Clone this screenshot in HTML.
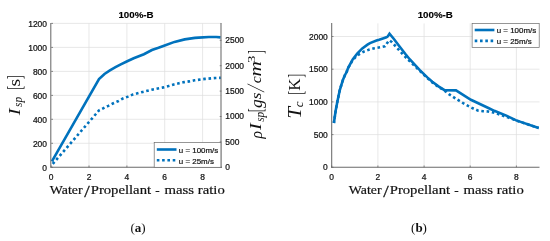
<!DOCTYPE html>
<html><head><meta charset="utf-8"><title>Figure</title>
<style>html,body{margin:0;padding:0;background:#fff}svg{display:block}.t{font-family:"Liberation Sans",sans-serif;font-size:8.45px;fill:#111;stroke:#111;stroke-width:0.22px}.tt{font-family:"Liberation Sans",sans-serif;font-size:9.75px;font-weight:bold;fill:#000;stroke:#000;stroke-width:0.15px}.lg{font-family:"Liberation Sans",sans-serif;font-size:7.95px;fill:#111;stroke:#111;stroke-width:0.2px}.s{font-family:"Liberation Serif",serif;font-size:13.2px;fill:#111;stroke:#111;stroke-width:0.2px}.y{font-family:"Liberation Serif",serif;font-size:16.8px;fill:#111;stroke:#111;stroke-width:0.15px}.i{font-style:italic}.c{font-family:"Liberation Serif",serif;font-size:13px;fill:#111}</style></head><body>
<svg width="550" height="241" viewBox="0 0 550 241">
<rect width="550" height="241" fill="#fff"/>
<g stroke="#dedede" stroke-width="0.7" fill="none">
<line x1="89.0" y1="23.4" x2="89.0" y2="167.3"/>
<line x1="126.9" y1="23.4" x2="126.9" y2="167.3"/>
<line x1="164.7" y1="23.4" x2="164.7" y2="167.3"/>
<line x1="202.6" y1="23.4" x2="202.6" y2="167.3"/>
<line x1="51.2" y1="143.3" x2="221.5" y2="143.3"/>
<line x1="51.2" y1="119.3" x2="221.5" y2="119.3"/>
<line x1="51.2" y1="95.4" x2="221.5" y2="95.4"/>
<line x1="51.2" y1="71.4" x2="221.5" y2="71.4"/>
<line x1="51.2" y1="47.4" x2="221.5" y2="47.4"/>
<line x1="51.2" y1="23.4" x2="221.5" y2="23.4"/>
</g>
<polyline points="51.9,161.4 99.0,79.0 104.5,74.0 109.9,70.4 115.5,67.2 120.8,64.4 126.7,61.5 133.7,58.3 143.9,54.2 151.9,50.0 158.5,47.8 164.7,45.5 174.5,41.9 184.7,39.4 194.9,37.9 198.7,37.6 208.9,37.0 216.2,37.0 220.6,37.4" fill="none" stroke="#0072BD" stroke-width="2.6" stroke-linejoin="miter"/>
<polyline points="52.6,164.0 99.0,110.4 103.1,108.3 108.3,105.8 112.8,103.5 117.9,101.3 122.3,98.8 128.0,96.6 132.6,94.6 142.8,91.9 153.1,89.4 163.4,87.4 168.6,86.1 173.9,84.5 178.9,83.3 184.2,82.1 189.2,81.4 194.5,80.3 205.0,78.9 215.6,78.0 220.9,77.8" fill="none" stroke="#0072BD" stroke-width="2.6" stroke-dasharray="2.6 2.7" stroke-dashoffset="5.06" stroke-linejoin="round"/>
<g stroke="#6a6a6a" stroke-width="1.05" fill="none">
<line x1="50.800000000000004" y1="23.099999999999998" x2="50.800000000000004" y2="167.8"/>
<line x1="221.0" y1="23.099999999999998" x2="221.0" y2="167.8"/>
<line x1="50.7" y1="167.3" x2="222.0" y2="167.3"/>
</g>
<g stroke="#6a6a6a" stroke-width="0.8">
<line x1="51.2" y1="167.3" x2="51.2" y2="165.5"/>
<line x1="89.0" y1="167.3" x2="89.0" y2="165.5"/>
<line x1="126.9" y1="167.3" x2="126.9" y2="165.5"/>
<line x1="164.7" y1="167.3" x2="164.7" y2="165.5"/>
<line x1="202.6" y1="167.3" x2="202.6" y2="165.5"/>
<line x1="51.2" y1="167.3" x2="53.0" y2="167.3"/>
<line x1="51.2" y1="143.3" x2="53.0" y2="143.3"/>
<line x1="51.2" y1="119.3" x2="53.0" y2="119.3"/>
<line x1="51.2" y1="95.4" x2="53.0" y2="95.4"/>
<line x1="51.2" y1="71.4" x2="53.0" y2="71.4"/>
<line x1="51.2" y1="47.4" x2="53.0" y2="47.4"/>
<line x1="51.2" y1="23.4" x2="53.0" y2="23.4"/>
<line x1="221.5" y1="167.3" x2="219.7" y2="167.3"/>
<line x1="221.5" y1="141.9" x2="219.7" y2="141.9"/>
<line x1="221.5" y1="116.5" x2="219.7" y2="116.5"/>
<line x1="221.5" y1="91.1" x2="219.7" y2="91.1"/>
<line x1="221.5" y1="65.7" x2="219.7" y2="65.7"/>
<line x1="221.5" y1="40.3" x2="219.7" y2="40.3"/>
</g>
<text class="t" x="51.2" y="180.4" text-anchor="middle">0</text>
<text class="t" x="89.0" y="180.4" text-anchor="middle">2</text>
<text class="t" x="126.9" y="180.4" text-anchor="middle">4</text>
<text class="t" x="164.7" y="180.4" text-anchor="middle">6</text>
<text class="t" x="202.6" y="180.4" text-anchor="middle">8</text>
<text class="t" x="47.0" y="170.6" text-anchor="end">0</text>
<text class="t" x="47.0" y="146.6" text-anchor="end">200</text>
<text class="t" x="47.0" y="122.6" text-anchor="end">400</text>
<text class="t" x="47.0" y="98.7" text-anchor="end">600</text>
<text class="t" x="47.0" y="74.7" text-anchor="end">800</text>
<text class="t" x="47.0" y="50.7" text-anchor="end">1000</text>
<text class="t" x="47.0" y="26.7" text-anchor="end">1200</text>
<text class="t" x="225.3" y="170.2">0</text>
<text class="t" x="225.3" y="144.8">500</text>
<text class="t" x="225.3" y="119.4">1000</text>
<text class="t" x="225.3" y="94.0">1500</text>
<text class="t" x="225.3" y="68.6">2000</text>
<text class="t" x="225.3" y="43.2">2500</text>
<text class="tt" x="136" y="18.3" text-anchor="middle">100%-B</text>
<text style='font:13.4px "Liberation Serif",serif;fill:#111;stroke:#111;stroke-width:0.2px' transform="translate(49.83,194.40) scale(1.033,1)">Water</text>
<text style='font:13.4px "Liberation Serif",serif;fill:#111;stroke:#111;stroke-width:0.2px' transform="translate(84.28,197.00) scale(1.475,1.26)">/</text>
<text style='font:13.4px "Liberation Serif",serif;fill:#111;stroke:#111;stroke-width:0.2px' transform="translate(90.73,194.40) scale(1.096,1)">Propellant</text>
<text style='font:13.4px "Liberation Serif",serif;fill:#111;stroke:#111;stroke-width:0.2px' transform="translate(155.13,194.40) scale(0.987,1)">-</text>
<text style='font:13.4px "Liberation Serif",serif;fill:#111;stroke:#111;stroke-width:0.2px' transform="translate(164.46,194.40) scale(1.105,1)">mass</text>
<text style='font:13.4px "Liberation Serif",serif;fill:#111;stroke:#111;stroke-width:0.2px' transform="translate(197.86,194.40) scale(1.096,1)">ratio</text>
<text style='font:italic 17px "Liberation Serif",serif;fill:#111' transform="translate(19.80,115.35) rotate(-90) scale(1.184,1.043) ">I</text>
<text style='font:italic 11.6px "Liberation Serif",serif;fill:#111' transform="translate(22.04,106.92) rotate(-90) scale(0.985,1.025) ">sp</text>
<text style='font:17px "Liberation Serif",serif;fill:#111' transform="translate(21.20,89.67) rotate(-90) scale(0.693,1.200) ">[</text>
<text style='font:17px "Liberation Serif",serif;fill:#111' transform="translate(19.68,86.47) rotate(-90) scale(1.162,0.935) ">s</text>
<text style='font:17px "Liberation Serif",serif;fill:#111' transform="translate(21.20,79.23) rotate(-90) scale(0.693,1.200) ">]</text>
<text style='font:italic 17px "Liberation Serif",serif;fill:#111' transform="translate(261.63,138.45) rotate(-90) scale(0.925,1.041) ">ρ</text>
<text style='font:italic 17px "Liberation Serif",serif;fill:#111' transform="translate(260.60,130.05) rotate(-90) scale(1.184,1.025) ">I</text>
<text style='font:italic 11.6px "Liberation Serif",serif;fill:#111' transform="translate(263.65,121.82) rotate(-90) scale(0.974,1.100) ">sp</text>
<text style='font:17px "Liberation Serif",serif;fill:#111' transform="translate(261.90,112.37) rotate(-90) scale(0.693,1.200) ">[</text>
<text style='font:italic 17px "Liberation Serif",serif;fill:#111' transform="translate(261.63,107.90) rotate(-90) scale(1.038,1.041) ">g</text>
<text style='font:italic 17px "Liberation Serif",serif;fill:#111' transform="translate(260.59,99.26) rotate(-90) scale(1.021,0.911) ">s</text>
<text style='font:17px "Liberation Serif",serif;fill:#111' transform="translate(264.35,92.60) rotate(-90) scale(0.935,1.018) skewX(-17) scale(1,1.45)">/</text>
<text style='font:italic 17px "Liberation Serif",serif;fill:#111' transform="translate(260.59,83.27) rotate(-90) scale(0.931,0.911) ">c</text>
<text style='font:italic 17px "Liberation Serif",serif;fill:#111' transform="translate(260.70,76.58) rotate(-90) scale(1.251,0.925) ">m</text>
<text style='font:11.6px "Liberation Serif",serif;fill:#111' transform="translate(255.48,63.00) rotate(-90) scale(1.284,0.942) ">3</text>
<text style='font:17px "Liberation Serif",serif;fill:#111' transform="translate(261.90,54.03) rotate(-90) scale(0.693,1.200) ">]</text>
<text style='font:italic 17px "Liberation Serif",serif;fill:#111' transform="translate(300.60,118.80) rotate(-90) scale(1.248,1.061) ">T</text>
<text style='font:italic 11.6px "Liberation Serif",serif;fill:#111' transform="translate(303.08,107.22) rotate(-90) scale(1.124,0.996) ">c</text>
<text style='font:17px "Liberation Serif",serif;fill:#111' transform="translate(301.50,94.77) rotate(-90) scale(0.693,1.200) ">[</text>
<text style='font:17px "Liberation Serif",serif;fill:#111' transform="translate(300.40,90.80) rotate(-90) scale(0.998,0.989) ">K</text>
<text style='font:17px "Liberation Serif",serif;fill:#111' transform="translate(301.50,77.83) rotate(-90) scale(0.693,1.200) ">]</text>
<rect x="154.2" y="142.5" width="66.7" height="24.8" fill="#fff" stroke="#6a6a6a" stroke-width="0.7"/>
<line x1="156.8" y1="149.5" x2="176.5" y2="149.5" stroke="#0072BD" stroke-width="2.6"/>
<line x1="156.8" y1="160.3" x2="176.5" y2="160.3" stroke="#0072BD" stroke-width="2.6" stroke-dasharray="2.6 2.7"/>
<text class="lg" x="178.8" y="152.6">u = 100m/s</text>
<text class="lg" x="178.8" y="163.6">u = 25m/s</text>
<g stroke="#dedede" stroke-width="0.7" fill="none">
<line x1="377.9" y1="23.4" x2="377.9" y2="167.3"/>
<line x1="424.1" y1="23.4" x2="424.1" y2="167.3"/>
<line x1="470.2" y1="23.4" x2="470.2" y2="167.3"/>
<line x1="516.4" y1="23.4" x2="516.4" y2="167.3"/>
<line x1="331.7" y1="134.6" x2="539.5" y2="134.6"/>
<line x1="331.7" y1="101.9" x2="539.5" y2="101.9"/>
<line x1="331.7" y1="69.2" x2="539.5" y2="69.2"/>
<line x1="331.7" y1="36.5" x2="539.5" y2="36.5"/>
</g>
<polyline points="333.9,123.0 335.6,111.0 337.5,101.0 339.8,90.0 343.0,79.7 344.9,75.2 346.6,72.0 348.2,67.8 352.7,59.5 357.2,53.6 362.3,48.4 367.5,44.6 370.0,43.1 376.5,40.6 379.1,39.8 382.9,38.5 386.4,37.3 387.6,36.6 389.5,33.7 393.7,38.7 398.6,45.2 405.6,54.3 409.9,59.5 419.8,70.2 427.3,77.4 432.3,81.8 438.5,86.4 444.5,90.2 456.0,90.4 470.9,99.8 488.9,108.2 494.3,110.8 506.9,115.9 516.2,120.4 538.7,128.1" fill="none" stroke="#0072BD" stroke-width="2.6" stroke-linejoin="miter"/>
<polyline points="333.9,123.0 335.6,111.0 337.5,101.0 339.8,90.0 343.0,79.7 344.9,75.2 346.6,72.0 348.2,67.8 352.7,60.0 356.5,56.2 359.7,53.9 364.3,51.4 369.4,49.6 374.5,48.3 380.3,47.3 385.0,46.3 387.2,43.0 389.3,40.3 392.0,42.2 397.0,47.8 403.0,54.6 409.0,60.5 420.0,71.0 427.3,78.0 432.3,82.4 438.5,86.9 444.5,90.6 449.7,94.7 454.2,97.6 458.7,100.4 463.2,103.2 467.7,105.7 472.8,108.3 478.0,110.6 483.1,111.2 488.3,111.5 493.7,112.6 498.2,114.0 503.3,115.8 508.5,117.6 516.2,120.4 538.7,128.1" fill="none" stroke="#0072BD" stroke-width="2.6" stroke-dasharray="2.6 2.7" stroke-dashoffset="0.81" stroke-linejoin="round"/>
<g stroke="#6a6a6a" stroke-width="1.05" fill="none">
<line x1="331.7" y1="23.099999999999998" x2="331.7" y2="167.8"/>
<line x1="331.2" y1="167.3" x2="539.5" y2="167.3"/>
</g>
<g stroke="#6a6a6a" stroke-width="0.8">
<line x1="331.7" y1="167.3" x2="331.7" y2="165.5"/>
<line x1="377.9" y1="167.3" x2="377.9" y2="165.5"/>
<line x1="424.1" y1="167.3" x2="424.1" y2="165.5"/>
<line x1="470.2" y1="167.3" x2="470.2" y2="165.5"/>
<line x1="516.4" y1="167.3" x2="516.4" y2="165.5"/>
<line x1="331.7" y1="167.3" x2="333.5" y2="167.3"/>
<line x1="331.7" y1="134.6" x2="333.5" y2="134.6"/>
<line x1="331.7" y1="101.9" x2="333.5" y2="101.9"/>
<line x1="331.7" y1="69.2" x2="333.5" y2="69.2"/>
<line x1="331.7" y1="36.5" x2="333.5" y2="36.5"/>
</g>
<text class="t" x="331.7" y="180.4" text-anchor="middle">0</text>
<text class="t" x="377.9" y="180.4" text-anchor="middle">2</text>
<text class="t" x="424.1" y="180.4" text-anchor="middle">4</text>
<text class="t" x="470.2" y="180.4" text-anchor="middle">6</text>
<text class="t" x="516.4" y="180.4" text-anchor="middle">8</text>
<text class="t" x="327.8" y="170.4" text-anchor="end">0</text>
<text class="t" x="327.8" y="137.7" text-anchor="end">500</text>
<text class="t" x="327.8" y="105.0" text-anchor="end">1000</text>
<text class="t" x="327.8" y="72.3" text-anchor="end">1500</text>
<text class="t" x="327.8" y="39.6" text-anchor="end">2000</text>
<text class="tt" x="435.3" y="18.3" text-anchor="middle">100%-B</text>
<text style='font:13.4px "Liberation Serif",serif;fill:#111;stroke:#111;stroke-width:0.2px' transform="translate(348.83,194.40) scale(1.033,1)">Water</text>
<text style='font:13.4px "Liberation Serif",serif;fill:#111;stroke:#111;stroke-width:0.2px' transform="translate(383.28,197.00) scale(1.475,1.26)">/</text>
<text style='font:13.4px "Liberation Serif",serif;fill:#111;stroke:#111;stroke-width:0.2px' transform="translate(389.73,194.40) scale(1.096,1)">Propellant</text>
<text style='font:13.4px "Liberation Serif",serif;fill:#111;stroke:#111;stroke-width:0.2px' transform="translate(454.13,194.40) scale(0.987,1)">-</text>
<text style='font:13.4px "Liberation Serif",serif;fill:#111;stroke:#111;stroke-width:0.2px' transform="translate(463.46,194.40) scale(1.105,1)">mass</text>
<text style='font:13.4px "Liberation Serif",serif;fill:#111;stroke:#111;stroke-width:0.2px' transform="translate(496.86,194.40) scale(1.096,1)">ratio</text>
<rect x="472.1" y="23.5" width="67.1" height="24.0" fill="#fff" stroke="#6a6a6a" stroke-width="0.7"/>
<line x1="474.7" y1="30.0" x2="494.4" y2="30.0" stroke="#0072BD" stroke-width="2.6"/>
<line x1="474.7" y1="40.9" x2="494.4" y2="40.9" stroke="#0072BD" stroke-width="2.6" stroke-dasharray="2.6 2.7"/>
<text class="lg" x="496.7" y="33.0">u = 100m/s</text>
<text class="lg" x="496.7" y="44.1">u = 25m/s</text>
<text class="c" x="138" y="232.1" text-anchor="middle">(<tspan font-weight="bold">a</tspan>)</text>
<text class="c" x="419" y="232.1" text-anchor="middle">(<tspan font-weight="bold">b</tspan>)</text>
</svg></body></html>
